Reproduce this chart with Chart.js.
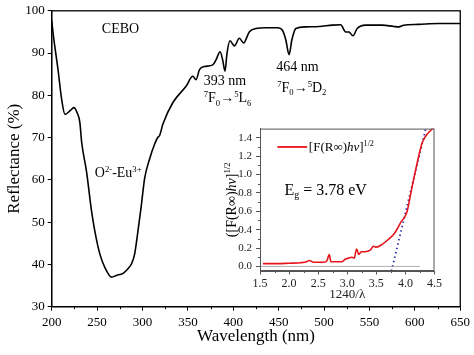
<!DOCTYPE html>
<html><head><meta charset="utf-8">
<script src="https://cdn.jsdelivr.net/npm/chart.js@4/dist/chart.umd.min.js"></script>
<style>
html,body{margin:0;padding:0;background:#fff;overflow:hidden}
#wrap{position:relative;width:474px;height:355px;background:#fff}
#main{position:absolute;left:0;top:0;width:474px;height:355px}
#inset{position:absolute;left:222px;top:118px;width:222px;height:185px}
</style></head>
<body><div id="wrap"><canvas id="main" width="474" height="355"></canvas><canvas id="inset" width="222" height="185"></canvas></div>
<script>
// ---- main spectrum data ----
const wavelength = [200,202,207,211,214.6,220,224.5,228,231,233,238.4,243.9,247.5,253,258.5,265.9,271.3,278.6,284,287.8,291.4,295,298.8,302.4,307.9,313.4,317,318.9,322.5,333.5,348.2,355.4,359,362.8,368.3,377.4,381,385.5,388.3,390.9,393.1,396.4,401.2,406.7,411.4,417.6,425,436,448.7,454.2,457.9,461.5,464.5,468.9,479.9,494.5,509.1,518.3,523.8,527.4,531.8,536.5,545.7,564,576.8,582.3,587.7,604.2,626.2,650];
const reflectance = [97.7,93.9,86,79,75.5,76.3,77.1,75.9,73.6,68.9,61.9,52.6,47.9,42.5,39.3,37.0,37.4,37.9,39.0,40.1,42.5,47.9,54.1,60.4,65.0,68.5,70.1,70.5,73.2,78.3,82.2,84.5,83.7,86.1,86.8,87.2,88.4,90.3,88.4,85.7,90.0,92.9,91.7,93.5,92.4,95.0,95.8,96.0,96.0,95.4,93.1,89.6,93.1,95.8,96.2,96.3,96.6,96.7,95.0,95.0,94.1,95.8,96.6,96.6,96.3,96.2,96.6,96.8,97.0,97.0];
const mainXTicks = [200,250,300,350,400,450,500,550,600,650];
const mainXMinor = [225,275,325,375,425,475,525,575,625];
const mainYTicks = [30,40,50,60,70,80,90,100];

// ---- inset (Kubelka-Munk) data ----
const energy = [1.55,1.8,2.0,2.2,2.3,2.35,2.42,2.6,2.65,2.69,2.72,2.9,2.97,3.02,3.08,3.12,3.16,3.2,3.24,3.3,3.4,3.45,3.5,3.6,3.7,3.8,3.87,3.93,3.98,4.03,4.1,4.2,4.28,4.35,4.45,4.5];
const kmValue = [0.03,0.03,0.035,0.04,0.05,0.065,0.045,0.045,0.06,0.13,0.05,0.05,0.08,0.09,0.10,0.09,0.19,0.13,0.16,0.16,0.18,0.22,0.21,0.24,0.29,0.35,0.42,0.49,0.53,0.60,0.82,1.12,1.33,1.42,1.49,1.52];
const tangentE = [3.76,4.35];
const tangentV = [-0.05,1.5];
const baselineE = [1.5,4.25];
const baselineV = [0,0];
const insetXTicks = [1.5,2.0,2.5,3.0,3.5,4.0,4.5];
const insetXMinor = [1.75,2.25,2.75,3.25,3.75,4.25];
const insetYTicks = [0,0.2,0.4,0.6,0.8,1.0,1.2,1.4];
const insetYMinor = [0.1,0.3,0.5,0.7,0.9,1.1,1.3];

const FONT = "'Liberation Serif','Times New Roman',serif";

function rich(ctx, x, y, parts, size, align, color){
  ctx.save();
  ctx.fillStyle = color || '#000';
  ctx.textBaseline = 'alphabetic';
  ctx.textAlign = 'left';
  const fontFor = p => (p.it ? 'italic ' : '') + (p.s ? size*0.62 : size) + 'px ' + FONT;
  let w = 0;
  parts.forEach(p => { ctx.font = fontFor(p); p.w = ctx.measureText(p.t).width; w += p.w; });
  let cx = align === 'center' ? x - w/2 : x;
  parts.forEach(p => {
    ctx.font = fontFor(p);
    const dy = p.s === 'sup' ? -size*0.38 : (p.s === 'sub' ? size*0.22 : 0);
    ctx.fillText(p.t, cx, y + dy);
    cx += p.w;
  });
  ctx.restore();
}

// annotations: [x value, y value (vertical centre), size, parts]
const mainNotes = [
  [255.2, 95.8, 14, [{t:'CEBO'}]],
  [367.4, 83.5, 14, [{t:'393 nm'}]],
  [367.4, 79.4, 14, [{t:'7',s:'sup'},{t:'F'},{t:'0',s:'sub'},{t:'\u2192'},{t:'5',s:'sup'},{t:'L'},{t:'6',s:'sub'}]],
  [447.3, 86.9, 14, [{t:'464 nm'}]],
  [448.4, 81.9, 14, [{t:'7',s:'sup'},{t:'F'},{t:'0',s:'sub'},{t:'\u2192'},{t:'5',s:'sup'},{t:'D'},{t:'2',s:'sub'}]],
  [247.5, 61.7, 14, [{t:'O'},{t:'2-',s:'sup'},{t:'-Eu'},{t:'3+',s:'sup'}]]
];

const mainPlugin = {
  id: 'mainDeco',
  afterDraw(chart){
    const ctx = chart.ctx, a = chart.chartArea, xs = chart.scales.x, ys = chart.scales.y;
    ctx.save();
    ctx.strokeStyle = '#000'; ctx.lineWidth = 1.3;
    ctx.strokeRect(a.left, a.top, a.right - a.left, a.bottom - a.top);
    ctx.lineWidth = 1;
    mainXMinor.forEach(v => {
      const px = Math.round(xs.getPixelForValue(v)) + 0.5;
      ctx.beginPath(); ctx.moveTo(px, a.bottom); ctx.lineTo(px, a.bottom + 2.5); ctx.stroke();
    });
    ctx.restore();
    mainNotes.forEach(n => {
      rich(ctx, xs.getPixelForValue(n[0]), ys.getPixelForValue(n[1]) + n[2]*0.33, n[3], n[2], 'left', '#000');
    });
  }
};

new Chart(document.getElementById('main'), {
  type: 'line',
  data: { datasets: [{
    data: wavelength.map((w,i) => ({x:w, y:reflectance[i]})),
    borderColor: '#000', borderWidth: 1.6, pointRadius: 0, fill: false,
    cubicInterpolationMode: 'monotone'
  }]},
  options: {
    responsive: false, animation: false, events: [],
    layout: { padding: { left: 0, top: 7, right: 12.3, bottom: 0 } },
    plugins: { legend: { display: false }, tooltip: { enabled: false } },
    scales: {
      x: {
        type: 'linear', min: 200, max: 650,
        afterBuildTicks: s => { s.ticks = mainXTicks.map(v => ({value: v})); },
        afterFit: s => { s.height = 48.3; },
        grid: { drawOnChartArea: false, drawTicks: true, tickLength: 4, color: '#000' },
        border: { display: true, color: '#000', width: 1.3 },
        ticks: { color: '#000', font: { family: FONT, size: 13 }, padding: 4, maxRotation: 0, autoSkip: false, callback: v => String(v) },
        title: { display: true, text: 'Wavelength (nm)', color: '#000', font: { family: FONT, size: 17 }, padding: { top: 0, bottom: 8 } }
      },
      y: {
        type: 'linear', min: 30, max: 100,
        afterBuildTicks: s => { s.ticks = mainYTicks.map(v => ({value: v})); },
        afterFit: s => { s.width = 51.7; },
        grid: { drawOnChartArea: false, drawTicks: true, tickLength: 4, color: '#000' },
        border: { display: true, color: '#000', width: 1.3 },
        ticks: { color: '#000', font: { family: FONT, size: 13 }, padding: 3, autoSkip: false, callback: v => String(v) },
        title: { display: true, text: 'Reflectance (%)', color: '#000', font: { family: FONT, size: 17 }, padding: { top: 4, bottom: 0 } }
      }
    }
  },
  plugins: [mainPlugin]
});

const insetPlugin = {
  id: 'insetDeco',
  afterDraw(chart){
    const ctx = chart.ctx, a = chart.chartArea, xs = chart.scales.x, ys = chart.scales.y;
    ctx.save();
    ctx.strokeStyle = '#555'; ctx.lineWidth = 1;
    ctx.strokeRect(a.left + 0.5, a.top + 0.5, a.right - a.left - 1, a.bottom - a.top - 1);
    insetXMinor.forEach(v => {
      const px = Math.round(xs.getPixelForValue(v)) + 0.5;
      ctx.beginPath(); ctx.moveTo(px, a.bottom); ctx.lineTo(px, a.bottom + 2); ctx.stroke();
    });
    insetYMinor.forEach(v => {
      const py = Math.round(ys.getPixelForValue(v)) + 0.5;
      ctx.beginPath(); ctx.moveTo(a.left, py); ctx.lineTo(a.left - 2, py); ctx.stroke();
    });
    // legend
    const ly = ys.getPixelForValue(1.30);
    ctx.strokeStyle = '#e8141c'; ctx.lineWidth = 1.8;
    ctx.beginPath(); ctx.moveTo(xs.getPixelForValue(1.80), ly); ctx.lineTo(xs.getPixelForValue(2.31), ly); ctx.stroke();
    ctx.restore();
    rich(ctx, xs.getPixelForValue(2.34), ly + 13*0.33, [{t:'[F(R\u221E)'},{t:'hv',it:true},{t:']'},{t:'1/2',s:'sup'}], 13, 'left', '#000');
    rich(ctx, xs.getPixelForValue(1.92), ys.getPixelForValue(0.84) + 16*0.33, [{t:'E'},{t:'g',s:'sub'},{t:' = 3.78 eV'}], 16, 'left', '#000');
    // rotated y title
    ctx.save();
    ctx.translate(9, (a.top + a.bottom)/2);
    ctx.rotate(-Math.PI/2);
    rich(ctx, 0, 14*0.33, [{t:'([F(R\u221E)'},{t:'hv',it:true},{t:']'},{t:'1/2',s:'sup'}], 14, 'center', '#000');
    ctx.restore();
  }
};

new Chart(document.getElementById('inset'), {
  type: 'line',
  data: { datasets: [
    { data: baselineE.map((e,i) => ({x:e, y:baselineV[i]})), borderColor: '#9a9a9a', borderWidth: 0.8, pointRadius: 0, fill: false },
    { data: energy.map((e,i) => ({x:e, y:kmValue[i]})), borderColor: '#e8141c', borderWidth: 1.6, pointRadius: 0, fill: false, cubicInterpolationMode: 'monotone' },
    { data: tangentE.map((e,i) => ({x:e, y:tangentV[i]})), borderColor: '#2b2fb0', borderWidth: 1.8, borderDash: [1.5,3], pointRadius: 0, fill: false }
  ]},
  options: {
    responsive: false, animation: false, events: [],
    layout: { padding: { left: 0, top: 7, right: 6, bottom: 0 } },
    plugins: { legend: { display: false }, tooltip: { enabled: false } },
    scales: {
      x: {
        type: 'linear', min: 1.5, max: 4.5,
        afterBuildTicks: s => { s.ticks = insetXTicks.map(v => ({value: v})); },
        afterFit: s => { s.height = 32; },
        grid: { drawOnChartArea: false, drawTicks: true, tickLength: 3.5, color: '#555' },
        border: { display: true, color: '#555', width: 1 },
        ticks: { color: '#222', font: { family: FONT, size: 12 }, padding: 2, maxRotation: 0, autoSkip: false, callback: v => Number(v).toFixed(1) },
        title: { display: true, text: '1240/\u03BB', color: '#222', font: { family: FONT, size: 13 }, padding: { top: 0, bottom: 1 } }
      },
      y: {
        type: 'linear', min: -0.05, max: 1.5,
        afterBuildTicks: s => { s.ticks = insetYTicks.map(v => ({value: v})); },
        afterFit: s => { s.width = 38; },
        grid: { drawOnChartArea: false, drawTicks: true, tickLength: 4, color: '#555' },
        border: { display: true, color: '#555', width: 1 },
        ticks: { color: '#222', font: { family: FONT, size: 11 }, padding: 4, autoSkip: false, callback: v => Number(v).toFixed(1) },
        title: { display: false }
      }
    }
  },
  plugins: [insetPlugin]
});
</script>
</body></html>
